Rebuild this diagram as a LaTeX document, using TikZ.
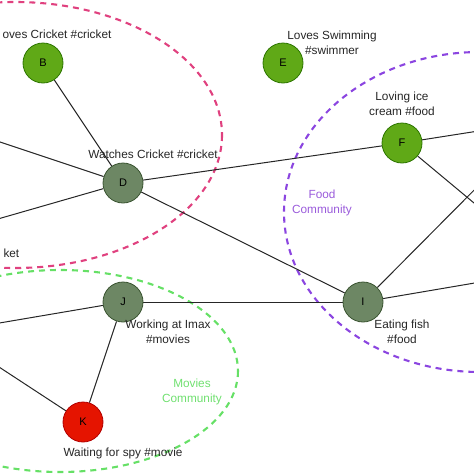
\documentclass[tikz,border=0pt]{standalone}
\usepackage{fontspec}
\setmainfont{Liberation Sans}
\usetikzlibrary{backgrounds}

\definecolor{leaffill}{HTML}{60A917}
\definecolor{leafdraw}{HTML}{2D7600}
\definecolor{sagefill}{HTML}{6D8764}
\definecolor{sagedraw}{HTML}{3A5431}
\definecolor{alertfill}{HTML}{E51400}
\definecolor{alertdraw}{HTML}{B20000}
\definecolor{cricketpink}{HTML}{E0417F}
\definecolor{foodpurple}{HTML}{8B45E0}
\definecolor{foodtext}{HTML}{9A5BDB}
\definecolor{moviegreen}{HTML}{66E066}
\definecolor{movietext}{HTML}{70E070}

\tikzset{
  person/.style={circle, line width=0.8pt, minimum size=40pt, inner sep=0pt, font=\fontsize{11}{13}\selectfont},
  tag/.style={align=center, font=\fontsize{11.8}{14.5}\selectfont, text=black!85},
  link/.style={draw=black!85, line width=1pt},
  community/.style={line width=2.1pt, dash pattern=on 6pt off 5pt}
}

\begin{document}
\begin{tikzpicture}[x=1pt, y=-1pt]
    \useasboundingbox (0,0) rectangle (474,474);
    \clip (0,0) rectangle (474,474);

    % Draw nodes
    \foreach \n/\x/\y/\c in {B/43/63/leaf, E/283/63/leaf, F/402/143/leaf,
                            D/123/183/sage, I/363/302/sage, J/123/302/sage,
                            K/83/422/alert} {
      \node[person, fill=\c fill, draw=\c draw] (\n) at (\x,\y) {\n};
    }

    % Loose ends leaving the picture
    \coordinate (dl1) at (-30,132);
    \coordinate (dl2) at (-30,227);
    \coordinate (fr1) at (504,127);
    \coordinate (fr2) at (504,228);
    \coordinate (ir1) at (504,160);
    \coordinate (ir2) at (504,278);
    \coordinate (jl) at (-30,328);
    \coordinate (kl) at (-30,348);

    \begin{pgfonlayer}{background}
      % Draw community borders
      \draw[community, cricketpink] (15,135) ellipse (207 and 133);
      \draw[community, foodpurple] (480,212) ellipse (196 and 160);
      \draw[community, moviegreen] (60,371) ellipse (178 and 101);

      % Draw links
      \foreach \a/\b in {B/D, D/F, D/I, J/I, J/K, D/dl1, D/dl2, F/fr1, F/fr2,
                         I/ir1, I/ir2, J/jl, K/kl} {
        \draw[link] (\a) -- (\b);
      }
    \end{pgfonlayer}

    % Labels
    \node[tag, anchor=west] (labB) at (-1,34) {oves Cricket \#cricket};
    \node[tag] (labE) at (332,43) {Loves Swimming\\\#swimmer};
    \node[tag] (labF) at (402,104) {Loving ice\\cream \#food};
    \node[tag] (labD) at (153,154) {Watches Cricket \#cricket};
    \node[tag, anchor=west] (labX) at (0,253) {ket};
    \node[tag] (labI) at (402,332) {Eating fish\\\#food};
    \node[tag] (labJ) at (168,332) {Working at Imax\\\#movies};
    \node[tag] (labK) at (123,453) {Waiting for spy \#movie};

    % Community names
    \node[tag, text=foodtext] (food) at (322,203) {Food\\Community};
    \node[tag, text=movietext] (movies) at (192,392) {Movies\\Community};

  \end{tikzpicture}
\end{document}
